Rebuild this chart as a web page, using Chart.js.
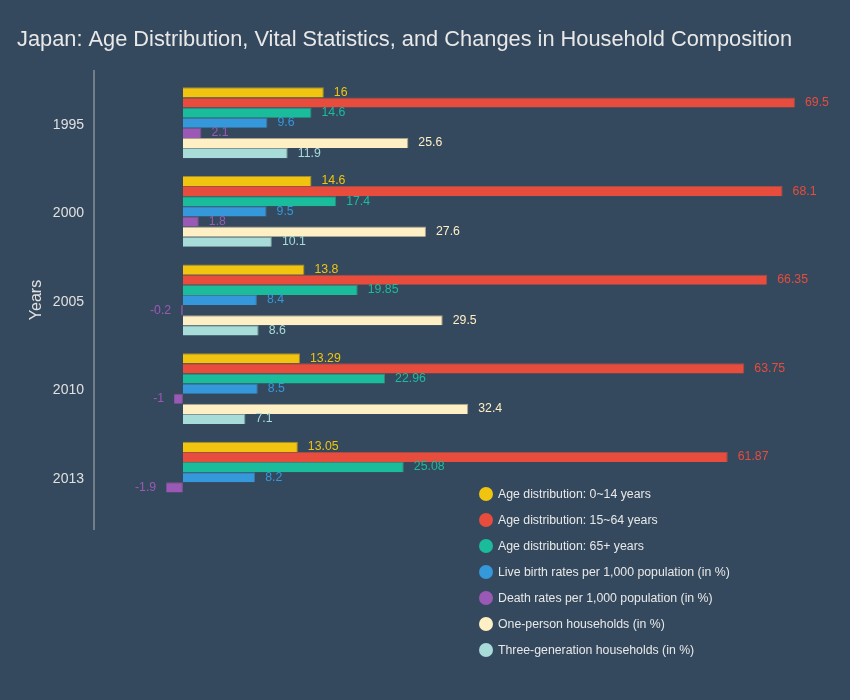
<!DOCTYPE html>
<html>
<head>
<meta charset="utf-8">
<script src="https://cdn.jsdelivr.net/npm/chart.js@4.4.1/dist/chart.umd.min.js"></script>
<style>
  html, body { margin: 0; padding: 0; background: #35495e; }
  #wrap { position: relative; width: 850px; height: 700px; }
  #legend { position: absolute; left: 479px; top: 487px; font-family: "Liberation Sans", Arial, sans-serif; font-size: 12.3px; color: #e8e8e8; }
  .item { display: flex; align-items: center; height: 26px; }
  .item .dot { width: 14px; height: 14px; border-radius: 50%; margin-right: 5px; margin-top: -12px; }
  .item span { margin-top: -12px; }
</style>
</head>
<body>
<div id="wrap">
  <canvas id="c" width="850" height="700"></canvas>
  <div id="legend"></div>
</div>
<script>
const years = ["1995", "2000", "2005", "2010", "2013"];
const seriesNames = [
  "Age distribution: 0~14 years",
  "Age distribution: 15~64 years",
  "Age distribution: 65+ years",
  "Live birth rates per 1,000 population (in %)",
  "Death rates per 1,000 population (in %)",
  "One-person households (in %)",
  "Three-generation households (in %)"
];
const age0to14 = [16, 14.6, 13.8, 13.29, 13.05];
const age15to64 = [69.5, 68.1, 66.35, 63.75, 61.87];
const age65plus = [14.6, 17.4, 19.85, 22.96, 25.08];
const birthRates = [9.6, 9.5, 8.4, 8.5, 8.2];
const deathRates = [2.1, 1.8, -0.2, -1, -1.9];
const onePerson = [25.6, 27.6, 29.5, 32.4, null];
const threeGen = [11.9, 10.1, 8.6, 7.1, null];
const colors = ["#f1c40f", "#e74c3c", "#1abc9c", "#3498db", "#9b59b6", "#ffefc4", "#a8dcd8"];
const borders = ["#a38d32", "#9e5048", "#378878", "#447698", "#785785", "#aaa28c", "#7e9896"];
const values = [age0to14, age15to64, age65plus, birthRates, deathRates, onePerson, threeGen];

const FONT = '"Liberation Sans", Arial, sans-serif';

const labelPlugin = {
  id: 'barLabels',
  afterDatasetsDraw(chart) {
    const ctx = chart.ctx;
    ctx.save();
    ctx.font = '12.3px ' + FONT;
    ctx.textBaseline = 'middle';
    chart.data.datasets.forEach((ds, i) => {
      const meta = chart.getDatasetMeta(i);
      meta.data.forEach((el, j) => {
        const v = ds.data[j];
        if (v === null || v === undefined) return;
        ctx.fillStyle = colors[i];
        if (v >= 0) {
          ctx.textAlign = 'left';
          ctx.fillText(String(v), el.x + 10, el.y);
        } else {
          ctx.textAlign = 'right';
          ctx.fillText(String(v), el.x - 10, el.y);
        }
      });
    });
    ctx.restore();
  }
};

const axisLinePlugin = {
  id: 'axisLine',
  beforeDatasetsDraw(chart) {
    const ctx = chart.ctx;
    const x = chart.chartArea.left;
    ctx.save();
    ctx.strokeStyle = '#737d87';
    ctx.lineWidth = 2;
    ctx.beginPath();
    ctx.moveTo(x, 70);
    ctx.lineTo(x, 530);
    ctx.stroke();
    ctx.restore();
  }
};

const chart = new Chart(document.getElementById('c'), {
  type: 'bar',
  data: {
    labels: years,
    datasets: values.map((d, i) => ({
      label: seriesNames[i],
      data: d,
      backgroundColor: colors[i],
      borderColor: borders[i],
      borderWidth: { top: 1, right: 1, bottom: 0, left: 0 },
      borderSkipped: false,
      categoryPercentage: 0.8,
      barPercentage: 1.0
    }))
  },
  options: {
    indexAxis: 'y',
    responsive: false,
    animation: false,
    devicePixelRatio: 1,
    layout: { padding: { left: 17, right: 7.5, top: 0, bottom: 178.5 } },
    plugins: {
      legend: { display: false },
      tooltip: { enabled: false },
      title: {
        display: true,
        text: 'Japan: Age Distribution, Vital Statistics, and Changes in Household Composition',
        align: 'start',
        color: '#e8e8e8',
        font: { family: FONT, size: 21.8, weight: 'normal' },
        padding: { top: 27, bottom: 25.3 }
      }
    },
    scales: {
      x: {
        display: false,
        min: -10.1,
        max: 74.9
      },
      y: {
        afterFit(scale) { scale.width = 77; },
        grid: { display: false },
        border: { display: false },
        ticks: { color: '#e0e0e0', font: { family: FONT, size: 14 }, padding: 2, labelOffset: 2 },
        title: {
          display: true,
          text: 'Years',
          color: '#e0e0e0',
          font: { family: FONT, size: 16 },
          padding: { top: 10, bottom: 4 }
        }
      }
    }
  },
  plugins: [labelPlugin, axisLinePlugin]
});

const legend = document.getElementById('legend');
chart.data.datasets.forEach((ds, i) => {
  const row = document.createElement('div');
  row.className = 'item';
  const dot = document.createElement('div');
  dot.className = 'dot';
  dot.style.background = colors[i];
  const txt = document.createElement('span');
  txt.textContent = ds.label;
  row.appendChild(dot);
  row.appendChild(txt);
  legend.appendChild(row);
});
</script>
</body>
</html>
